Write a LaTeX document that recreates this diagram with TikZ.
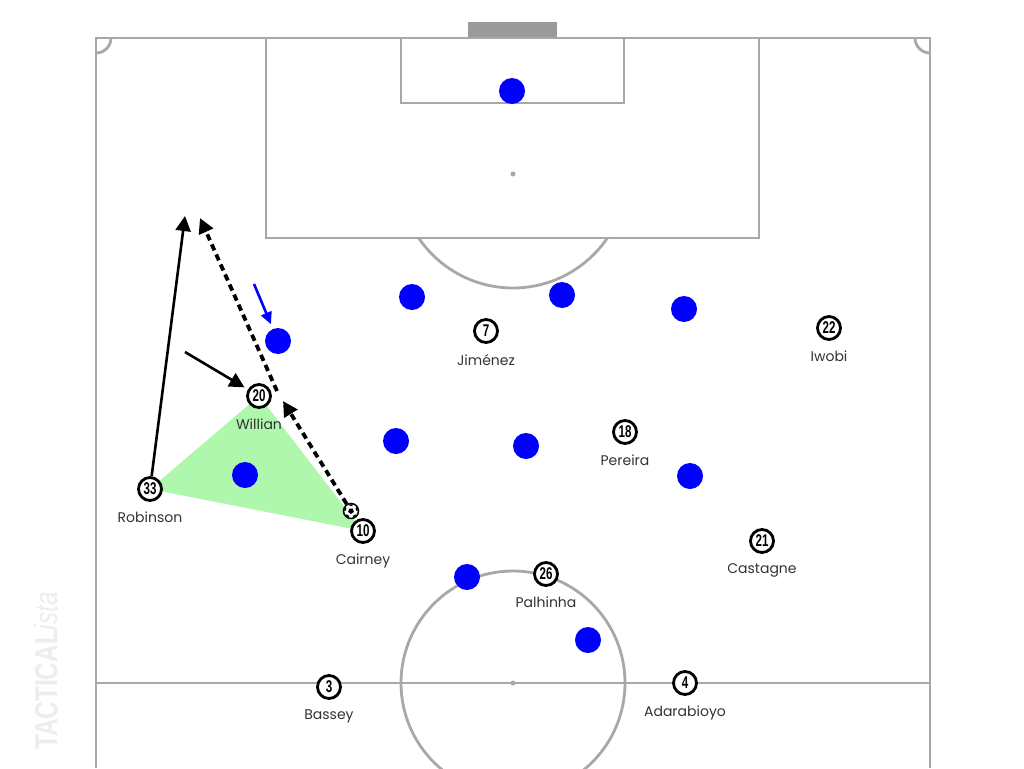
\documentclass[tikz,border=0pt]{standalone}
\usepackage{fontspec}
\setmainfont{Poppins}
\newfontfamily\numfont{Liberation Sans}
\usepackage{tikz}
\usetikzlibrary{positioning}
\usetikzlibrary{arrows.meta}
\usetikzlibrary{backgrounds}
\definecolor{pitchgray}{HTML}{A8A8A8}
\definecolor{dotblue}{HTML}{0000FF}
\definecolor{zonegreen}{HTML}{B0F7AE}
\definecolor{markgray}{HTML}{EDEDED}
\definecolor{labelgray}{HTML}{333333}
\newcommand{\pnum}[1]{\scalebox{0.68}[1]{\numfont\bfseries #1}}
\newcommand{\player}[5]{\node[player] (#1) at (#2,#3) {\pnum{#4}};
        \node[plabel, below=10pt of #1] ({#1l}) {#5};}
\newcommand{\opp}[3]{\node[opp] (#1) at (#2,#3) {};}

\begin{document}
\begin{tikzpicture}[x=1pt, y=-1pt,
        line/.style={pitchgray, line width=2.8pt},
        player/.style={circle, draw=black, line width=2.8pt, fill=white,
            minimum size=23pt, inner sep=0pt, font=\fontsize{17}{17}\selectfont},
        plabel/.style={text=labelgray, inner sep=0pt,
            font=\fontsize{14}{14}\selectfont},
        opp/.style={circle, fill=dotblue, minimum size=26pt, inner sep=0pt},
        ballnode/.style={circle, draw=black, line width=1.5pt, fill=white,
            minimum size=15pt, inner sep=0pt},
        run/.style={line width=2.6pt, -{Triangle[length=15pt, width=15pt]}},
        pass/.style={line width=3.8pt, dash pattern=on 6.5pt off 4.5pt,
            -{Triangle[length=15pt, width=15pt]}},
        shift run/.style={dotblue, line width=2.6pt,
            -{Triangle[length=12pt, width=11pt]}}]
    \useasboundingbox (0,0) rectangle (1024,768);
    \begin{scope}[on background layer]
        \fill[white] (0,0) rectangle (1024,768);
    \end{scope}
    % watermark
    \node[rotate=90, anchor=west, text=markgray, inner sep=0pt] (mark) at (46,750)
        {\fontsize{32}{32}\selectfont\scalebox{0.76}[1]{\numfont\bfseries TACTICAL\mdseries\itshape ista}};
    % pitch
    \fill[pitchgray!115] (468,22) rectangle (557,38);
    \draw[line] (96,768) -- (96,38) -- (930,38) -- (930,768);
    \draw[line] (96,683) -- (930,683);
    \draw[line] (266,38) -- (266,238) -- (759,238) -- (759,38);
    \draw[line] (401,38) -- (401,103) -- (624,103) -- (624,38);
    \draw[line] (513,683) circle (112);
    \begin{scope}
        \clip (300,239.5) rectangle (720,320);
        \draw[line] (513,174) circle (114);
    \end{scope}
    \begin{scope}
        \clip (96,38) rectangle (140,80);
        \draw[line] (96,38) circle (15);
    \end{scope}
    \begin{scope}
        \clip (930,38) rectangle (880,80);
        \draw[line] (930,38) circle (15);
    \end{scope}
    \fill[pitchgray] (513,174) circle (2.5);
    \fill[pitchgray] (513,683) circle (2.5);
    % opponents
    \opp{o1}{512}{91}
    \opp{o2}{412}{297}
    \opp{o3}{562}{295}
    \opp{o4}{684}{309}
    \opp{o5}{278}{341}
    \opp{o6}{396}{441}
    \opp{o7}{526}{446}
    \opp{o8}{690}{476}
    \opp{o9}{245}{475}
    \opp{o10}{467}{577}
    \opp{o11}{588}{640}
    % players
    \player{p33}{150}{489}{33}{Robinson}
    \player{p20}{259}{396}{20}{Willian}
    \player{p10}{363}{531}{10}{Cairney}
    \player{p7}{486}{331}{7}{Jiménez}
    \player{p22}{829}{328}{22}{Iwobi}
    \player{p18}{625}{432}{18}{Pereira}
    \player{p21}{762}{541}{21}{Castagne}
    \player{p26}{546}{574}{26}{Palhinha}
    \player{p3}{329}{687}{3}{Bassey}
    \player{p4}{685}{683}{4}{Adarabioyo}
    % zone
    \begin{scope}[on background layer]
        \fill[zonegreen] (p33.center) -- (p20.center) -- (p10.center) -- cycle;
    \end{scope}
    % ball
    \node[ballnode] (ball) at (351,511) {};
    \begin{scope}
        \clip (351,511) circle (6.8);
        \fill[shift={(351,511)}] (90:3) -- (162:3) -- (234:3) -- (306:3) -- (18:3) -- cycle;
        \foreach \a in {90,162,234,306,18}
            \fill[shift={(351,511)}] (\a+180:7.5) circle (2.6);
    \end{scope}
    % runs and passes
    \coordinate (t33) at (185,216);
    \coordinate (w0) at (185,352);
    \coordinate (w1) at (283,401);
    \coordinate (w2) at (277,391);
    \coordinate (t20) at (200,218);
    \coordinate (b0) at (254,284);
    \draw[run] (p33) -- (t33);
    \draw[run, shorten >=4pt] (w0) -- (p20);
    \draw[shift run, shorten >=5pt] (b0) -- (o5);
    \draw[pass] (ball) -- (w1);
    \draw[pass] (w2) -- (t20);
\end{tikzpicture}
\end{document}
